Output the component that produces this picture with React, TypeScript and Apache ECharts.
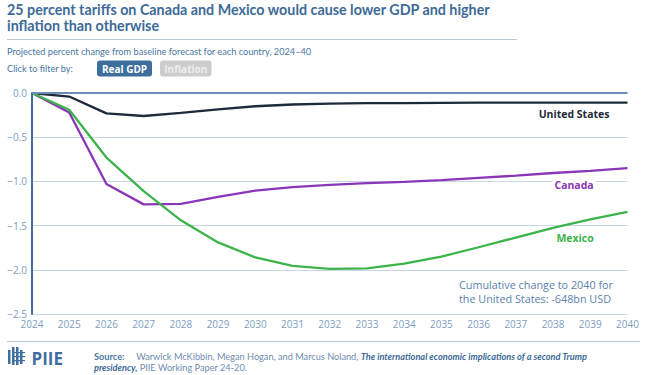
import React, { useEffect, useRef } from "react";
import * as echarts from "echarts";

const years = ["2024","2025","2026","2027","2028","2029","2030","2031","2032","2033","2034","2035","2036","2037","2038","2039","2040"];
const unitedStates = [0, -0.04, -0.23, -0.26, -0.225, -0.185, -0.15, -0.13, -0.12, -0.115, -0.115, -0.112, -0.11, -0.11, -0.11, -0.11, -0.11];
const canada = [0, -0.22, -1.03, -1.26, -1.255, -1.175, -1.105, -1.065, -1.04, -1.02, -1.005, -0.985, -0.96, -0.935, -0.905, -0.88, -0.85];
const mexico = [0, -0.19, -0.73, -1.11, -1.44, -1.69, -1.86, -1.955, -1.99, -1.985, -1.93, -1.85, -1.745, -1.635, -1.525, -1.43, -1.345];
const yTicks = { min: -2.5, max: 0, interval: 0.5 };
const labelIndex = 14;

const FONT = "'Open Sans', sans-serif";
const LATO = "Lato, 'Open Sans', sans-serif";
const BLUE = "#3d6a97";

export default function App() {
  const ref = useRef<HTMLDivElement>(null);
  useEffect(() => {
    if (!ref.current) return;
    const chart = echarts.init(ref.current, null, { renderer: "svg" });
    const mk = (name: string, data: number[], color: string, offset: number[], bg?: string) => ({
      name,
      type: "line",
      data,
      showSymbol: false,
      lineStyle: { color, width: 2.3 },
      itemStyle: { color },
      markPoint: {
        symbol: "circle",
        symbolSize: 0,
        silent: true,
        data: [{ coord: [years[labelIndex], data[labelIndex]] }],
        label: {
          show: true,
          position: "inside",
          formatter: name,
          offset,
          color,
          fontFamily: FONT,
          fontWeight: "bold",
          fontSize: 10.5,
          backgroundColor: bg,
          padding: bg ? [0, 2] : 0,
        },
      },
    });
    chart.setOption({
      animation: false,
      grid: { left: 32, right: 19.5, top: 93, bottom: 61, containLabel: false },
      xAxis: {
        type: "category",
        data: years,
        boundaryGap: false,
        axisLine: { show: false },
        axisTick: { show: false },
        splitLine: { show: false },
        axisLabel: { color: "#7e9dc1", fontFamily: FONT, fontSize: 10, margin: 5, interval: 0 },
      },
      yAxis: {
        type: "value",
        min: yTicks.min,
        max: yTicks.max,
        interval: yTicks.interval,
        axisLine: { show: true, onZero: false, lineStyle: { color: "#3f6fa0", width: 2 } },
        axisTick: { show: false },
        splitLine: { show: true, lineStyle: { color: "#c9d6e5", width: 1 } },
        axisLabel: {
          color: "#7e9dc1",
          fontFamily: FONT,
          fontSize: 10,
          margin: 5,
          formatter: (v: number) => v.toFixed(1).replace("-", "\u2212"),
        },
      },
      series: [
        {
          ...mk("United States", unitedStates, "#1d2b3b", [21, 11.5]),
          markLine: {
            silent: true,
            symbol: "none",
            label: { show: false },
            lineStyle: { color: "#6b8fb4", width: 2, type: "solid" },
            data: [{ yAxis: 0 }],
          },
        },
        mk("Canada", canada, "#8a36b8", [21, 12], "#ffffff"),
        mk("Mexico", mexico, "#3cb44b", [22, 10]),
      ],
      graphic: [
        { type: "text", x: 7, y: 9, style: { text: "25 percent tariffs on Canada and Mexico would cause lower GDP and higher", fill: BLUE, font: `bold 14.3px ${LATO}`, verticalAlign: "middle" } },
        { type: "text", x: 7, y: 25.5, style: { text: "inflation than otherwise", fill: BLUE, font: `bold 14.3px ${LATO}`, verticalAlign: "middle" } },
        { type: "line", shape: { x1: 7, y1: 39.5, x2: 517, y2: 39.5 }, style: { stroke: "#b9c8d8", lineWidth: 1 } },
        { type: "text", x: 7, y: 51, style: { text: "Projected percent change from baseline forecast for each country, 2024\u201340", fill: "#4a77a4", font: `9.2px ${LATO}`, verticalAlign: "middle" } },
        { type: "text", x: 7, y: 68.5, style: { text: "Click to filter by:", fill: "#4a77a4", font: `9.2px ${LATO}`, verticalAlign: "middle" } },
        { type: "rect", shape: { x: 97, y: 60.5, width: 55, height: 16, r: 3 }, style: { fill: "#3d6e9d" } },
        { type: "text", x: 124.5, y: 68.5, style: { text: "Real GDP", fill: "#ffffff", font: `bold 10px ${FONT}`, align: "center", verticalAlign: "middle" } },
        { type: "rect", shape: { x: 160, y: 60.5, width: 51.5, height: 16, r: 3 }, style: { fill: "#cdcdcd" } },
        { type: "text", x: 185.8, y: 68.5, style: { text: "Inflation", fill: "#eeeeee", font: `bold 10px ${FONT}`, align: "center", verticalAlign: "middle" } },
        { type: "text", x: 459, y: 284.7, style: { text: "Cumulative change to 2040 for", fill: "#5a82ac", font: `10.8px ${FONT}`, verticalAlign: "middle" } },
        { type: "text", x: 459, y: 298.2, style: { text: "the United States: -648bn USD", fill: "#5a82ac", font: `10.8px ${FONT}`, verticalAlign: "middle" } },
        { type: "line", shape: { x1: 7, y1: 341.5, x2: 640, y2: 341.5 }, style: { stroke: "#b9c8d8", lineWidth: 1 } },
        {
          type: "group",
          children: [
            { type: "rect", shape: { x: 8, y: 350, width: 2.5, height: 14 }, style: { fill: "#3f6ea0" } },
            { type: "rect", shape: { x: 12, y: 347, width: 2.5, height: 18 }, style: { fill: "#3f6ea0" } },
            { type: "rect", shape: { x: 16, y: 347, width: 2.5, height: 18 }, style: { fill: "#3f6ea0" } },
            { type: "rect", shape: { x: 20, y: 350, width: 2.5, height: 14 }, style: { fill: "#3f6ea0" } },
            { type: "rect", shape: { x: 14, y: 352, width: 11, height: 1.2 }, style: { fill: "#3f6ea0" } },
            { type: "rect", shape: { x: 14, y: 356, width: 11, height: 1.2 }, style: { fill: "#3f6ea0" } },
            { type: "rect", shape: { x: 14, y: 360, width: 11, height: 1.2 }, style: { fill: "#3f6ea0" } },
          ],
        },
        { type: "text", x: 31.5, y: 358.5, style: { text: "PIIE", fill: "#3f6ea0", font: `bold 17px ${FONT}`, verticalAlign: "middle" } },
        {
          type: "text",
          x: 94,
          y: 362,
          style: {
            text: "{b|Source:}     {r|Warwick McKibbin, Megan Hogan, and Marcus Noland, }{bi|The international economic implications of a second Trump}\n{bi|presidency,} {r|PIIE Working Paper 24-20.}",
            verticalAlign: "middle",
            lineHeight: 10.6,
            rich: {
              b: { font: `bold 9.2px ${LATO}`, fill: "#4a77a4", lineHeight: 10.6 },
              r: { font: `9.2px ${LATO}`, fill: "#6f8db0", lineHeight: 10.6 },
              bi: { font: `italic bold 9.2px ${LATO}`, fill: "#3d6a97", lineHeight: 10.6 },
            },
            font: `9.2px ${LATO}`,
          },
        },
      ],
    });
    return () => chart.dispose();
  }, []);
  return <div ref={ref} style={{ width: 647, height: 375, position: "absolute", left: 0, top: 0 }} />;
}
